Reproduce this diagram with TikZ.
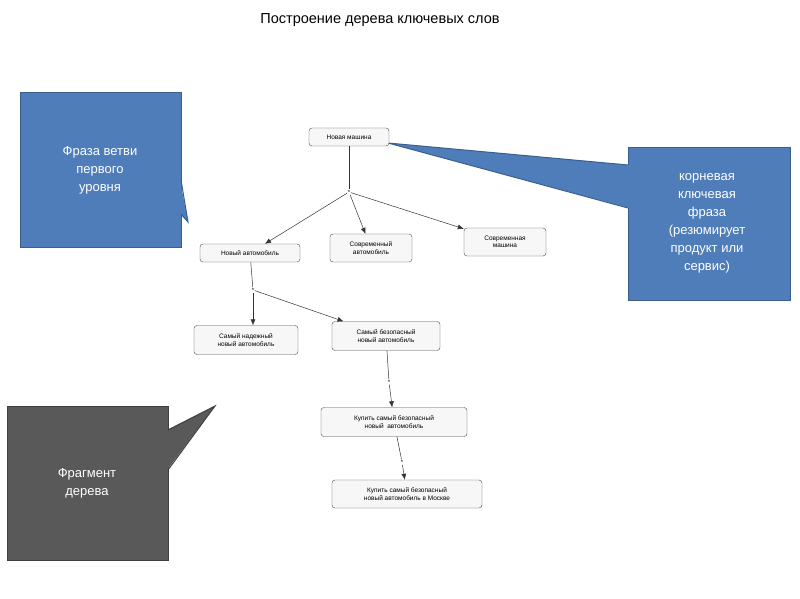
\documentclass[tikz,border=0pt]{standalone}
\usepackage{fontspec}
\setmainfont{Liberation Sans}
\begin{document}
\begin{tikzpicture}[x=1pt,y=-1pt,
 kw/.style={draw=black!70,fill=gray!6,rounded corners=3pt,font=\fontsize{6.5}{7.5}\selectfont,align=center,inner sep=2pt},
 st/.style={font=\fontsize{6}{6}\selectfont,inner sep=0.5pt},
 ar/.style={-{Latex[length=6pt,width=5pt]},black!80,line width=0.5pt},
 ln/.style={black!80,line width=0.5pt},
 blue/.style={fill=blueF,draw=blueD,line width=1pt},
 grey/.style={fill=greyF,draw=greyD,line width=1pt}]
\usetikzlibrary{arrows.meta}
\definecolor{blueF}{HTML}{4F7DBA}\definecolor{blueD}{HTML}{3A5F8F}
\definecolor{greyF}{HTML}{595959}\definecolor{greyD}{HTML}{3F3F3F}
\useasboundingbox (0,0) rectangle (800,599);
\fill[white] (0,0) rectangle (800,599);
\node (title) at (380,20) {\fontsize{14.5}{17}\selectfont Построение дерева ключевых слов};
% callouts
\draw[blue] (20,93) rectangle (181,247);
\fill[blueF] (180,180) -- (188,222) -- (180,214) -- cycle;
\draw[blueD,line width=1pt] (181,180) -- (188,222) -- (181,214);
\node[text=white,align=center,font=\fontsize{13}{18}\selectfont] (lt) at (100,170) {Фраза ветви\\первого\\уровня};
\draw[blue] (628,147) rectangle (790,300);
\fill[blueF] (629,165) -- (388,143) -- (629,208) -- cycle;
\draw[blueD,line width=1pt] (628,165) -- (388,143) -- (628,208);
\node[text=white,align=center,font=\fontsize{13}{18}\selectfont] (rt) at (707,223) {корневая\\ключевая\\фраза\\(резюмирует\\продукт или\\сервис)};
\draw[grey] (7,406) rectangle (168,560);
\fill[greyF] (167,430) -- (215,406) -- (167,470) -- cycle;
\draw[greyD,line width=1pt] (168,430) -- (215,406) -- (168,470);
\node[text=white,align=center,font=\fontsize{13}{18}\selectfont] (gt) at (87,483) {Фрагмент\\дерева};
% tree
\node[kw,minimum width=80pt,minimum height=18pt] (a) at (349,137) {Новая машина};
\node[st] (s1) at (349,192) {*};
\node[kw,minimum width=100pt,minimum height=18pt] (b) at (250,253) {Новый автомобиль};
\node[kw,minimum width=82pt,minimum height=28pt] (c) at (371,248) {Современный\\автомобиль};
\node[kw,minimum width=82pt,minimum height=28pt] (d) at (505,242) {Современная\\машина};
\node[st] (s2) at (253,290) {*};
\node[kw,minimum width=104pt,minimum height=29pt] (e) at (246,340) {Самый надежный\\новый автомобиль};
\node[kw,minimum width=108pt,minimum height=29pt] (f) at (386,336) {Самый безопасный\\новый автомобиль};
\node[st] (s3) at (389,382) {*};
\node[kw,minimum width=146pt,minimum height=29pt] (g) at (394,422) {Купить самый безопасный\\новый\ \ автомобиль};
\node[st] (s4) at (402,462) {*};
\node[kw,minimum width=150pt,minimum height=28pt] (h) at (407,494) {Купить самый безопасный\\новый автомобиль в Москве};
\draw[ln] (a) -- (s1);
\draw[ar] (s1) -- (b);
\draw[ar] (s1) -- (c);
\draw[ar] (s1) -- (d);
\draw[ln] (b) -- (s2);
\draw[ar] (s2) -- (e.north west -| s2);
\draw[ar] (s2) -- (f);
\draw[ln] (f) -- (s3);
\draw[ar] (s3) -- (g);
\draw[ln] (g) -- (s4);
\draw[ar] (s4) -- (h);
\end{tikzpicture}
\end{document}
